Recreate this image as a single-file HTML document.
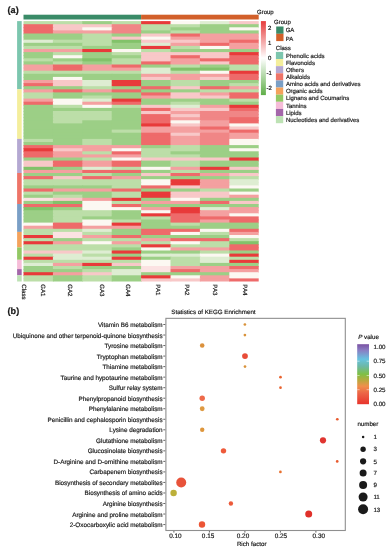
<!DOCTYPE html><html><head><meta charset="utf-8"><style>
html,body{margin:0;padding:0;background:#fff;width:390px;height:550px;overflow:hidden}
svg{display:block}
text{font-family:"Liberation Sans", Arial, sans-serif;fill:#1a1a1a;stroke:#1a1a1a;stroke-width:0.18px;text-rendering:geometricPrecision}
</style></head><body>
<svg width="390" height="550" viewBox="0 0 390 550">
<rect width="390" height="550" fill="#fff"/>
<text x="7.6" y="12.9" style="font-weight:bold;font-size:9.1px">(a)</text>
<rect x="23.50" y="14.7" width="117.60" height="4.8" fill="#3a8b68"/>
<rect x="141.10" y="14.7" width="117.60" height="4.8" fill="#d2602a"/>
<text x="257" y="14" style="font-size:6px">Group</text>
<g>
<rect x="23.50" y="21.10" width="30.20" height="3.90" fill="#bcdea8"/>
<rect x="52.90" y="21.10" width="30.20" height="3.90" fill="#bcdea8"/>
<rect x="82.30" y="21.10" width="30.20" height="3.90" fill="#9ccf86"/>
<rect x="111.70" y="21.10" width="30.20" height="3.90" fill="#bcdea8"/>
<rect x="141.10" y="21.10" width="30.20" height="3.90" fill="#e83a3a"/>
<rect x="170.50" y="21.10" width="30.20" height="3.90" fill="#fcf8f2"/>
<rect x="199.90" y="21.10" width="30.20" height="3.90" fill="#deedd2"/>
<rect x="229.30" y="21.10" width="29.40" height="3.90" fill="#f8c8c8"/>
<rect x="23.50" y="24.20" width="30.20" height="3.90" fill="#ee6a6a"/>
<rect x="52.90" y="24.20" width="30.20" height="3.90" fill="#f8c8c8"/>
<rect x="82.30" y="24.20" width="30.20" height="3.90" fill="#f8c8c8"/>
<rect x="111.70" y="24.20" width="30.20" height="3.90" fill="#f08686"/>
<rect x="141.10" y="24.20" width="30.20" height="3.90" fill="#bcdea8"/>
<rect x="170.50" y="24.20" width="30.20" height="3.90" fill="#bcdea8"/>
<rect x="199.90" y="24.20" width="30.20" height="3.90" fill="#9ccf86"/>
<rect x="229.30" y="24.20" width="29.40" height="3.90" fill="#9ccf86"/>
<rect x="23.50" y="27.30" width="30.20" height="3.90" fill="#ee6a6a"/>
<rect x="52.90" y="27.30" width="30.20" height="3.90" fill="#f8c8c8"/>
<rect x="82.30" y="27.30" width="30.20" height="3.90" fill="#fcf8f2"/>
<rect x="111.70" y="27.30" width="30.20" height="3.90" fill="#f08686"/>
<rect x="141.10" y="27.30" width="30.20" height="3.90" fill="#bcdea8"/>
<rect x="170.50" y="27.30" width="30.20" height="3.90" fill="#9ccf86"/>
<rect x="199.90" y="27.30" width="30.20" height="3.90" fill="#9ccf86"/>
<rect x="229.30" y="27.30" width="29.40" height="3.90" fill="#fcf8f2"/>
<rect x="23.50" y="30.40" width="30.20" height="3.90" fill="#ee6a6a"/>
<rect x="52.90" y="30.40" width="30.20" height="3.90" fill="#f4a0a0"/>
<rect x="82.30" y="30.40" width="30.20" height="3.90" fill="#f4a0a0"/>
<rect x="111.70" y="30.40" width="30.20" height="3.90" fill="#f08686"/>
<rect x="141.10" y="30.40" width="30.20" height="3.90" fill="#9ccf86"/>
<rect x="170.50" y="30.40" width="30.20" height="3.90" fill="#bcdea8"/>
<rect x="199.90" y="30.40" width="30.20" height="3.90" fill="#9ccf86"/>
<rect x="229.30" y="30.40" width="29.40" height="3.90" fill="#9ccf86"/>
<rect x="23.50" y="33.50" width="30.20" height="3.90" fill="#9ccf86"/>
<rect x="52.90" y="33.50" width="30.20" height="3.90" fill="#9ccf86"/>
<rect x="82.30" y="33.50" width="30.20" height="3.90" fill="#bcdea8"/>
<rect x="111.70" y="33.50" width="30.20" height="3.90" fill="#9ccf86"/>
<rect x="141.10" y="33.50" width="30.20" height="3.90" fill="#f8c8c8"/>
<rect x="170.50" y="33.50" width="30.20" height="3.90" fill="#ee6a6a"/>
<rect x="199.90" y="33.50" width="30.20" height="3.90" fill="#f4a0a0"/>
<rect x="229.30" y="33.50" width="29.40" height="3.90" fill="#f4a0a0"/>
<rect x="23.50" y="36.60" width="30.20" height="3.90" fill="#9ccf86"/>
<rect x="52.90" y="36.60" width="30.20" height="3.90" fill="#9ccf86"/>
<rect x="82.30" y="36.60" width="30.20" height="3.90" fill="#bcdea8"/>
<rect x="111.70" y="36.60" width="30.20" height="3.90" fill="#f8c8c8"/>
<rect x="141.10" y="36.60" width="30.20" height="3.90" fill="#fcf8f2"/>
<rect x="170.50" y="36.60" width="30.20" height="3.90" fill="#f4a0a0"/>
<rect x="199.90" y="36.60" width="30.20" height="3.90" fill="#f4a0a0"/>
<rect x="229.30" y="36.60" width="29.40" height="3.90" fill="#f4a0a0"/>
<rect x="23.50" y="39.70" width="30.20" height="3.90" fill="#deedd2"/>
<rect x="52.90" y="39.70" width="30.20" height="3.90" fill="#bcdea8"/>
<rect x="82.30" y="39.70" width="30.20" height="3.90" fill="#bcdea8"/>
<rect x="111.70" y="39.70" width="30.20" height="3.90" fill="#82c26a"/>
<rect x="141.10" y="39.70" width="30.20" height="3.90" fill="#f8c8c8"/>
<rect x="170.50" y="39.70" width="30.20" height="3.90" fill="#f8c8c8"/>
<rect x="199.90" y="39.70" width="30.20" height="3.90" fill="#f4a0a0"/>
<rect x="229.30" y="39.70" width="29.40" height="3.90" fill="#ee6a6a"/>
<rect x="23.50" y="42.80" width="30.20" height="3.90" fill="#9ccf86"/>
<rect x="52.90" y="42.80" width="30.20" height="3.90" fill="#9ccf86"/>
<rect x="82.30" y="42.80" width="30.20" height="3.90" fill="#bcdea8"/>
<rect x="111.70" y="42.80" width="30.20" height="3.90" fill="#9ccf86"/>
<rect x="141.10" y="42.80" width="30.20" height="3.90" fill="#deedd2"/>
<rect x="170.50" y="42.80" width="30.20" height="3.90" fill="#f4a0a0"/>
<rect x="199.90" y="42.80" width="30.20" height="3.90" fill="#ee6a6a"/>
<rect x="229.30" y="42.80" width="29.40" height="3.90" fill="#f4a0a0"/>
<rect x="23.50" y="45.90" width="30.20" height="3.90" fill="#bcdea8"/>
<rect x="52.90" y="45.90" width="30.20" height="3.90" fill="#bcdea8"/>
<rect x="82.30" y="45.90" width="30.20" height="3.90" fill="#9ccf86"/>
<rect x="111.70" y="45.90" width="30.20" height="3.90" fill="#9ccf86"/>
<rect x="141.10" y="45.90" width="30.20" height="3.90" fill="#e83a3a"/>
<rect x="170.50" y="45.90" width="30.20" height="3.90" fill="#bcdea8"/>
<rect x="199.90" y="45.90" width="30.20" height="3.90" fill="#fcf8f2"/>
<rect x="229.30" y="45.90" width="29.40" height="3.90" fill="#f4a0a0"/>
<rect x="23.50" y="49.00" width="30.20" height="3.90" fill="#f4a0a0"/>
<rect x="52.90" y="49.00" width="30.20" height="3.90" fill="#f4a0a0"/>
<rect x="82.30" y="49.00" width="30.20" height="3.90" fill="#e83a3a"/>
<rect x="111.70" y="49.00" width="30.20" height="3.90" fill="#fcf8f2"/>
<rect x="141.10" y="49.00" width="30.20" height="3.90" fill="#bcdea8"/>
<rect x="170.50" y="49.00" width="30.20" height="3.90" fill="#9ccf86"/>
<rect x="199.90" y="49.00" width="30.20" height="3.90" fill="#9ccf86"/>
<rect x="229.30" y="49.00" width="29.40" height="3.90" fill="#9ccf86"/>
<rect x="23.50" y="52.10" width="30.20" height="3.90" fill="#9ccf86"/>
<rect x="52.90" y="52.10" width="30.20" height="3.90" fill="#bcdea8"/>
<rect x="82.30" y="52.10" width="30.20" height="3.90" fill="#9ccf86"/>
<rect x="111.70" y="52.10" width="30.20" height="3.90" fill="#bcdea8"/>
<rect x="141.10" y="52.10" width="30.20" height="3.90" fill="#f8c8c8"/>
<rect x="170.50" y="52.10" width="30.20" height="3.90" fill="#f8c8c8"/>
<rect x="199.90" y="52.10" width="30.20" height="3.90" fill="#f8c8c8"/>
<rect x="229.30" y="52.10" width="29.40" height="3.90" fill="#e83a3a"/>
<rect x="23.50" y="55.20" width="30.20" height="3.90" fill="#9ccf86"/>
<rect x="52.90" y="55.20" width="30.20" height="3.90" fill="#fcf8f2"/>
<rect x="82.30" y="55.20" width="30.20" height="3.90" fill="#9ccf86"/>
<rect x="111.70" y="55.20" width="30.20" height="3.90" fill="#9ccf86"/>
<rect x="141.10" y="55.20" width="30.20" height="3.90" fill="#f8c8c8"/>
<rect x="170.50" y="55.20" width="30.20" height="3.90" fill="#ee6a6a"/>
<rect x="199.90" y="55.20" width="30.20" height="3.90" fill="#f8c8c8"/>
<rect x="229.30" y="55.20" width="29.40" height="3.90" fill="#ee6a6a"/>
<rect x="23.50" y="58.30" width="30.20" height="3.90" fill="#bcdea8"/>
<rect x="52.90" y="58.30" width="30.20" height="3.90" fill="#9ccf86"/>
<rect x="82.30" y="58.30" width="30.20" height="3.90" fill="#82c26a"/>
<rect x="111.70" y="58.30" width="30.20" height="3.90" fill="#bcdea8"/>
<rect x="141.10" y="58.30" width="30.20" height="3.90" fill="#f8c8c8"/>
<rect x="170.50" y="58.30" width="30.20" height="3.90" fill="#f4a0a0"/>
<rect x="199.90" y="58.30" width="30.20" height="3.90" fill="#ee6a6a"/>
<rect x="229.30" y="58.30" width="29.40" height="3.90" fill="#ee6a6a"/>
<rect x="23.50" y="61.40" width="30.20" height="3.90" fill="#9ccf86"/>
<rect x="52.90" y="61.40" width="30.20" height="3.90" fill="#bcdea8"/>
<rect x="82.30" y="61.40" width="30.20" height="3.90" fill="#9ccf86"/>
<rect x="111.70" y="61.40" width="30.20" height="3.90" fill="#bcdea8"/>
<rect x="141.10" y="61.40" width="30.20" height="3.90" fill="#ee6a6a"/>
<rect x="170.50" y="61.40" width="30.20" height="3.90" fill="#f4a0a0"/>
<rect x="199.90" y="61.40" width="30.20" height="3.90" fill="#f8c8c8"/>
<rect x="229.30" y="61.40" width="29.40" height="3.90" fill="#ee6a6a"/>
<rect x="23.50" y="64.50" width="30.20" height="3.90" fill="#f4a0a0"/>
<rect x="52.90" y="64.50" width="30.20" height="3.90" fill="#ee6a6a"/>
<rect x="82.30" y="64.50" width="30.20" height="3.90" fill="#f4a0a0"/>
<rect x="111.70" y="64.50" width="30.20" height="3.90" fill="#ee6a6a"/>
<rect x="141.10" y="64.50" width="30.20" height="3.90" fill="#9ccf86"/>
<rect x="170.50" y="64.50" width="30.20" height="3.90" fill="#bcdea8"/>
<rect x="199.90" y="64.50" width="30.20" height="3.90" fill="#9ccf86"/>
<rect x="229.30" y="64.50" width="29.40" height="3.90" fill="#bcdea8"/>
<rect x="23.50" y="67.60" width="30.20" height="3.90" fill="#f4a0a0"/>
<rect x="52.90" y="67.60" width="30.20" height="3.90" fill="#ee6a6a"/>
<rect x="82.30" y="67.60" width="30.20" height="3.90" fill="#f4a0a0"/>
<rect x="111.70" y="67.60" width="30.20" height="3.90" fill="#f4a0a0"/>
<rect x="141.10" y="67.60" width="30.20" height="3.90" fill="#deedd2"/>
<rect x="170.50" y="67.60" width="30.20" height="3.90" fill="#82c26a"/>
<rect x="199.90" y="67.60" width="30.20" height="3.90" fill="#82c26a"/>
<rect x="229.30" y="67.60" width="29.40" height="3.90" fill="#bcdea8"/>
<rect x="23.50" y="70.70" width="30.20" height="3.90" fill="#bcdea8"/>
<rect x="52.90" y="70.70" width="30.20" height="3.90" fill="#bcdea8"/>
<rect x="82.30" y="70.70" width="30.20" height="3.90" fill="#bcdea8"/>
<rect x="111.70" y="70.70" width="30.20" height="3.90" fill="#bcdea8"/>
<rect x="141.10" y="70.70" width="30.20" height="3.90" fill="#deedd2"/>
<rect x="170.50" y="70.70" width="30.20" height="3.90" fill="#bcdea8"/>
<rect x="199.90" y="70.70" width="30.20" height="3.90" fill="#fcf8f2"/>
<rect x="229.30" y="70.70" width="29.40" height="3.90" fill="#e83a3a"/>
<rect x="23.50" y="73.80" width="30.20" height="3.90" fill="#9ccf86"/>
<rect x="52.90" y="73.80" width="30.20" height="3.90" fill="#9ccf86"/>
<rect x="82.30" y="73.80" width="30.20" height="3.90" fill="#9ccf86"/>
<rect x="111.70" y="73.80" width="30.20" height="3.90" fill="#9ccf86"/>
<rect x="141.10" y="73.80" width="30.20" height="3.90" fill="#f4a0a0"/>
<rect x="170.50" y="73.80" width="30.20" height="3.90" fill="#f4a0a0"/>
<rect x="199.90" y="73.80" width="30.20" height="3.90" fill="#f4a0a0"/>
<rect x="229.30" y="73.80" width="29.40" height="3.90" fill="#ee6a6a"/>
<rect x="23.50" y="76.90" width="30.20" height="3.90" fill="#9ccf86"/>
<rect x="52.90" y="76.90" width="30.20" height="3.90" fill="#fcf8f2"/>
<rect x="82.30" y="76.90" width="30.20" height="3.90" fill="#9ccf86"/>
<rect x="111.70" y="76.90" width="30.20" height="3.90" fill="#9ccf86"/>
<rect x="141.10" y="76.90" width="30.20" height="3.90" fill="#f8c8c8"/>
<rect x="170.50" y="76.90" width="30.20" height="3.90" fill="#f4a0a0"/>
<rect x="199.90" y="76.90" width="30.20" height="3.90" fill="#f8c8c8"/>
<rect x="229.30" y="76.90" width="29.40" height="3.90" fill="#ee6a6a"/>
<rect x="23.50" y="80.00" width="30.20" height="3.90" fill="#f4a0a0"/>
<rect x="52.90" y="80.00" width="30.20" height="3.90" fill="#f8c8c8"/>
<rect x="82.30" y="80.00" width="30.20" height="3.90" fill="#deedd2"/>
<rect x="111.70" y="80.00" width="30.20" height="3.90" fill="#e83a3a"/>
<rect x="141.10" y="80.00" width="30.20" height="3.90" fill="#9ccf86"/>
<rect x="170.50" y="80.00" width="30.20" height="3.90" fill="#bcdea8"/>
<rect x="199.90" y="80.00" width="30.20" height="3.90" fill="#9ccf86"/>
<rect x="229.30" y="80.00" width="29.40" height="3.90" fill="#9ccf86"/>
<rect x="23.50" y="83.10" width="30.20" height="3.90" fill="#ee6a6a"/>
<rect x="52.90" y="83.10" width="30.20" height="3.90" fill="#f8c8c8"/>
<rect x="82.30" y="83.10" width="30.20" height="3.90" fill="#deedd2"/>
<rect x="111.70" y="83.10" width="30.20" height="3.90" fill="#e83a3a"/>
<rect x="141.10" y="83.10" width="30.20" height="3.90" fill="#9ccf86"/>
<rect x="170.50" y="83.10" width="30.20" height="3.90" fill="#bcdea8"/>
<rect x="199.90" y="83.10" width="30.20" height="3.90" fill="#9ccf86"/>
<rect x="229.30" y="83.10" width="29.40" height="3.90" fill="#bcdea8"/>
<rect x="23.50" y="86.20" width="30.20" height="3.90" fill="#9ccf86"/>
<rect x="52.90" y="86.20" width="30.20" height="3.90" fill="#9ccf86"/>
<rect x="82.30" y="86.20" width="30.20" height="3.90" fill="#bcdea8"/>
<rect x="111.70" y="86.20" width="30.20" height="3.90" fill="#9ccf86"/>
<rect x="141.10" y="86.20" width="30.20" height="3.90" fill="#ee6a6a"/>
<rect x="170.50" y="86.20" width="30.20" height="3.90" fill="#f8c8c8"/>
<rect x="199.90" y="86.20" width="30.20" height="3.90" fill="#ee6a6a"/>
<rect x="229.30" y="86.20" width="29.40" height="3.90" fill="#f4a0a0"/>
<rect x="23.50" y="89.30" width="30.20" height="3.90" fill="#f4a0a0"/>
<rect x="52.90" y="89.30" width="30.20" height="3.90" fill="#ee6a6a"/>
<rect x="82.30" y="89.30" width="30.20" height="3.90" fill="#f4a0a0"/>
<rect x="111.70" y="89.30" width="30.20" height="3.90" fill="#ee6a6a"/>
<rect x="141.10" y="89.30" width="30.20" height="3.90" fill="#9ccf86"/>
<rect x="170.50" y="89.30" width="30.20" height="3.90" fill="#9ccf86"/>
<rect x="199.90" y="89.30" width="30.20" height="3.90" fill="#bcdea8"/>
<rect x="229.30" y="89.30" width="29.40" height="3.90" fill="#bcdea8"/>
<rect x="23.50" y="92.40" width="30.20" height="3.90" fill="#bcdea8"/>
<rect x="52.90" y="92.40" width="30.20" height="3.90" fill="#9ccf86"/>
<rect x="82.30" y="92.40" width="30.20" height="3.90" fill="#9ccf86"/>
<rect x="111.70" y="92.40" width="30.20" height="3.90" fill="#9ccf86"/>
<rect x="141.10" y="92.40" width="30.20" height="3.90" fill="#ee6a6a"/>
<rect x="170.50" y="92.40" width="30.20" height="3.90" fill="#f8c8c8"/>
<rect x="199.90" y="92.40" width="30.20" height="3.90" fill="#f4a0a0"/>
<rect x="229.30" y="92.40" width="29.40" height="3.90" fill="#ee6a6a"/>
<rect x="23.50" y="95.50" width="30.20" height="3.90" fill="#bcdea8"/>
<rect x="52.90" y="95.50" width="30.20" height="3.90" fill="#9ccf86"/>
<rect x="82.30" y="95.50" width="30.20" height="3.90" fill="#bcdea8"/>
<rect x="111.70" y="95.50" width="30.20" height="3.90" fill="#9ccf86"/>
<rect x="141.10" y="95.50" width="30.20" height="3.90" fill="#f4a0a0"/>
<rect x="170.50" y="95.50" width="30.20" height="3.90" fill="#f8c8c8"/>
<rect x="199.90" y="95.50" width="30.20" height="3.90" fill="#f8c8c8"/>
<rect x="229.30" y="95.50" width="29.40" height="3.90" fill="#ee6a6a"/>
<rect x="23.50" y="98.60" width="30.20" height="3.90" fill="#f4a0a0"/>
<rect x="52.90" y="98.60" width="30.20" height="3.90" fill="#fcf8f2"/>
<rect x="82.30" y="98.60" width="30.20" height="3.90" fill="#deedd2"/>
<rect x="111.70" y="98.60" width="30.20" height="3.90" fill="#e83a3a"/>
<rect x="141.10" y="98.60" width="30.20" height="3.90" fill="#9ccf86"/>
<rect x="170.50" y="98.60" width="30.20" height="3.90" fill="#9ccf86"/>
<rect x="199.90" y="98.60" width="30.20" height="3.90" fill="#9ccf86"/>
<rect x="229.30" y="98.60" width="29.40" height="3.90" fill="#bcdea8"/>
<rect x="23.50" y="101.70" width="30.20" height="3.90" fill="#ee6a6a"/>
<rect x="52.90" y="101.70" width="30.20" height="3.90" fill="#fcf8f2"/>
<rect x="82.30" y="101.70" width="30.20" height="3.90" fill="#f4a0a0"/>
<rect x="111.70" y="101.70" width="30.20" height="3.90" fill="#ee6a6a"/>
<rect x="141.10" y="101.70" width="30.20" height="3.90" fill="#9ccf86"/>
<rect x="170.50" y="101.70" width="30.20" height="3.90" fill="#bcdea8"/>
<rect x="199.90" y="101.70" width="30.20" height="3.90" fill="#9ccf86"/>
<rect x="229.30" y="101.70" width="29.40" height="3.90" fill="#9ccf86"/>
<rect x="23.50" y="104.80" width="30.20" height="3.90" fill="#9ccf86"/>
<rect x="52.90" y="104.80" width="30.20" height="3.90" fill="#bcdea8"/>
<rect x="82.30" y="104.80" width="30.20" height="3.90" fill="#fcf8f2"/>
<rect x="111.70" y="104.80" width="30.20" height="3.90" fill="#bcdea8"/>
<rect x="141.10" y="104.80" width="30.20" height="3.90" fill="#f8c8c8"/>
<rect x="170.50" y="104.80" width="30.20" height="3.90" fill="#deedd2"/>
<rect x="199.90" y="104.80" width="30.20" height="3.90" fill="#f4a0a0"/>
<rect x="229.30" y="104.80" width="29.40" height="3.90" fill="#e83a3a"/>
<rect x="23.50" y="107.90" width="30.20" height="3.90" fill="#9ccf86"/>
<rect x="52.90" y="107.90" width="30.20" height="3.90" fill="#9ccf86"/>
<rect x="82.30" y="107.90" width="30.20" height="3.90" fill="#9ccf86"/>
<rect x="111.70" y="107.90" width="30.20" height="3.90" fill="#9ccf86"/>
<rect x="141.10" y="107.90" width="30.20" height="3.90" fill="#ee6a6a"/>
<rect x="170.50" y="107.90" width="30.20" height="3.90" fill="#f8c8c8"/>
<rect x="199.90" y="107.90" width="30.20" height="3.90" fill="#f8c8c8"/>
<rect x="229.30" y="107.90" width="29.40" height="3.90" fill="#ee6a6a"/>
<rect x="23.50" y="111.00" width="30.20" height="3.90" fill="#9ccf86"/>
<rect x="52.90" y="111.00" width="30.20" height="3.90" fill="#bcdea8"/>
<rect x="82.30" y="111.00" width="30.20" height="3.90" fill="#bcdea8"/>
<rect x="111.70" y="111.00" width="30.20" height="3.90" fill="#9ccf86"/>
<rect x="141.10" y="111.00" width="30.20" height="3.90" fill="#f8c8c8"/>
<rect x="170.50" y="111.00" width="30.20" height="3.90" fill="#f4a0a0"/>
<rect x="199.90" y="111.00" width="30.20" height="3.90" fill="#f08686"/>
<rect x="229.30" y="111.00" width="29.40" height="3.90" fill="#f08686"/>
<rect x="23.50" y="114.10" width="30.20" height="3.90" fill="#9ccf86"/>
<rect x="52.90" y="114.10" width="30.20" height="3.90" fill="#bcdea8"/>
<rect x="82.30" y="114.10" width="30.20" height="3.90" fill="#bcdea8"/>
<rect x="111.70" y="114.10" width="30.20" height="3.90" fill="#9ccf86"/>
<rect x="141.10" y="114.10" width="30.20" height="3.90" fill="#ee6a6a"/>
<rect x="170.50" y="114.10" width="30.20" height="3.90" fill="#f8c8c8"/>
<rect x="199.90" y="114.10" width="30.20" height="3.90" fill="#f08686"/>
<rect x="229.30" y="114.10" width="29.40" height="3.90" fill="#f08686"/>
<rect x="23.50" y="117.20" width="30.20" height="3.90" fill="#9ccf86"/>
<rect x="52.90" y="117.20" width="30.20" height="3.90" fill="#bcdea8"/>
<rect x="82.30" y="117.20" width="30.20" height="3.90" fill="#bcdea8"/>
<rect x="111.70" y="117.20" width="30.20" height="3.90" fill="#9ccf86"/>
<rect x="141.10" y="117.20" width="30.20" height="3.90" fill="#ee6a6a"/>
<rect x="170.50" y="117.20" width="30.20" height="3.90" fill="#f4a0a0"/>
<rect x="199.90" y="117.20" width="30.20" height="3.90" fill="#f08686"/>
<rect x="229.30" y="117.20" width="29.40" height="3.90" fill="#ee6a6a"/>
<rect x="23.50" y="120.30" width="30.20" height="3.90" fill="#9ccf86"/>
<rect x="52.90" y="120.30" width="30.20" height="3.90" fill="#bcdea8"/>
<rect x="82.30" y="120.30" width="30.20" height="3.90" fill="#9ccf86"/>
<rect x="111.70" y="120.30" width="30.20" height="3.90" fill="#9ccf86"/>
<rect x="141.10" y="120.30" width="30.20" height="3.90" fill="#ee6a6a"/>
<rect x="170.50" y="120.30" width="30.20" height="3.90" fill="#fcf8f2"/>
<rect x="199.90" y="120.30" width="30.20" height="3.90" fill="#f4a0a0"/>
<rect x="229.30" y="120.30" width="29.40" height="3.90" fill="#ee6a6a"/>
<rect x="23.50" y="123.40" width="30.20" height="3.90" fill="#9ccf86"/>
<rect x="52.90" y="123.40" width="30.20" height="3.90" fill="#9ccf86"/>
<rect x="82.30" y="123.40" width="30.20" height="3.90" fill="#9ccf86"/>
<rect x="111.70" y="123.40" width="30.20" height="3.90" fill="#9ccf86"/>
<rect x="141.10" y="123.40" width="30.20" height="3.90" fill="#e83a3a"/>
<rect x="170.50" y="123.40" width="30.20" height="3.90" fill="#f8c8c8"/>
<rect x="199.90" y="123.40" width="30.20" height="3.90" fill="#f4a0a0"/>
<rect x="229.30" y="123.40" width="29.40" height="3.90" fill="#fcf8f2"/>
<rect x="23.50" y="126.50" width="30.20" height="3.90" fill="#9ccf86"/>
<rect x="52.90" y="126.50" width="30.20" height="3.90" fill="#9ccf86"/>
<rect x="82.30" y="126.50" width="30.20" height="3.90" fill="#9ccf86"/>
<rect x="111.70" y="126.50" width="30.20" height="3.90" fill="#9ccf86"/>
<rect x="141.10" y="126.50" width="30.20" height="3.90" fill="#f4a0a0"/>
<rect x="170.50" y="126.50" width="30.20" height="3.90" fill="#f4a0a0"/>
<rect x="199.90" y="126.50" width="30.20" height="3.90" fill="#ee6a6a"/>
<rect x="229.30" y="126.50" width="29.40" height="3.90" fill="#f8c8c8"/>
<rect x="23.50" y="129.60" width="30.20" height="3.90" fill="#9ccf86"/>
<rect x="52.90" y="129.60" width="30.20" height="3.90" fill="#9ccf86"/>
<rect x="82.30" y="129.60" width="30.20" height="3.90" fill="#9ccf86"/>
<rect x="111.70" y="129.60" width="30.20" height="3.90" fill="#bcdea8"/>
<rect x="141.10" y="129.60" width="30.20" height="3.90" fill="#f4a0a0"/>
<rect x="170.50" y="129.60" width="30.20" height="3.90" fill="#f4a0a0"/>
<rect x="199.90" y="129.60" width="30.20" height="3.90" fill="#f4a0a0"/>
<rect x="229.30" y="129.60" width="29.40" height="3.90" fill="#ee6a6a"/>
<rect x="23.50" y="132.70" width="30.20" height="3.90" fill="#9ccf86"/>
<rect x="52.90" y="132.70" width="30.20" height="3.90" fill="#9ccf86"/>
<rect x="82.30" y="132.70" width="30.20" height="3.90" fill="#9ccf86"/>
<rect x="111.70" y="132.70" width="30.20" height="3.90" fill="#9ccf86"/>
<rect x="141.10" y="132.70" width="30.20" height="3.90" fill="#ee6a6a"/>
<rect x="170.50" y="132.70" width="30.20" height="3.90" fill="#f8c8c8"/>
<rect x="199.90" y="132.70" width="30.20" height="3.90" fill="#f08686"/>
<rect x="229.30" y="132.70" width="29.40" height="3.90" fill="#f4a0a0"/>
<rect x="23.50" y="135.80" width="30.20" height="3.90" fill="#9ccf86"/>
<rect x="52.90" y="135.80" width="30.20" height="3.90" fill="#9ccf86"/>
<rect x="82.30" y="135.80" width="30.20" height="3.90" fill="#9ccf86"/>
<rect x="111.70" y="135.80" width="30.20" height="3.90" fill="#9ccf86"/>
<rect x="141.10" y="135.80" width="30.20" height="3.90" fill="#ee6a6a"/>
<rect x="170.50" y="135.80" width="30.20" height="3.90" fill="#f4a0a0"/>
<rect x="199.90" y="135.80" width="30.20" height="3.90" fill="#f08686"/>
<rect x="229.30" y="135.80" width="29.40" height="3.90" fill="#f4a0a0"/>
<rect x="23.50" y="138.90" width="30.20" height="3.90" fill="#bcdea8"/>
<rect x="52.90" y="138.90" width="30.20" height="3.90" fill="#9ccf86"/>
<rect x="82.30" y="138.90" width="30.20" height="3.90" fill="#bcdea8"/>
<rect x="111.70" y="138.90" width="30.20" height="3.90" fill="#9ccf86"/>
<rect x="141.10" y="138.90" width="30.20" height="3.90" fill="#ee6a6a"/>
<rect x="170.50" y="138.90" width="30.20" height="3.90" fill="#f4a0a0"/>
<rect x="199.90" y="138.90" width="30.20" height="3.90" fill="#f08686"/>
<rect x="229.30" y="138.90" width="29.40" height="3.90" fill="#fcf8f2"/>
<rect x="23.50" y="142.00" width="30.20" height="3.90" fill="#9ccf86"/>
<rect x="52.90" y="142.00" width="30.20" height="3.90" fill="#9ccf86"/>
<rect x="82.30" y="142.00" width="30.20" height="3.90" fill="#bcdea8"/>
<rect x="111.70" y="142.00" width="30.20" height="3.90" fill="#9ccf86"/>
<rect x="141.10" y="142.00" width="30.20" height="3.90" fill="#ee6a6a"/>
<rect x="170.50" y="142.00" width="30.20" height="3.90" fill="#f4a0a0"/>
<rect x="199.90" y="142.00" width="30.20" height="3.90" fill="#f08686"/>
<rect x="229.30" y="142.00" width="29.40" height="3.90" fill="#fcf8f2"/>
<rect x="23.50" y="145.10" width="30.20" height="3.90" fill="#ee6a6a"/>
<rect x="52.90" y="145.10" width="30.20" height="3.90" fill="#f4a0a0"/>
<rect x="82.30" y="145.10" width="30.20" height="3.90" fill="#f4a0a0"/>
<rect x="111.70" y="145.10" width="30.20" height="3.90" fill="#f4a0a0"/>
<rect x="141.10" y="145.10" width="30.20" height="3.90" fill="#9ccf86"/>
<rect x="170.50" y="145.10" width="30.20" height="3.90" fill="#bcdea8"/>
<rect x="199.90" y="145.10" width="30.20" height="3.90" fill="#9ccf86"/>
<rect x="229.30" y="145.10" width="29.40" height="3.90" fill="#9ccf86"/>
<rect x="23.50" y="148.20" width="30.20" height="3.90" fill="#e83a3a"/>
<rect x="52.90" y="148.20" width="30.20" height="3.90" fill="#f8c8c8"/>
<rect x="82.30" y="148.20" width="30.20" height="3.90" fill="#f4a0a0"/>
<rect x="111.70" y="148.20" width="30.20" height="3.90" fill="#fcf8f2"/>
<rect x="141.10" y="148.20" width="30.20" height="3.90" fill="#bcdea8"/>
<rect x="170.50" y="148.20" width="30.20" height="3.90" fill="#bcdea8"/>
<rect x="199.90" y="148.20" width="30.20" height="3.90" fill="#9ccf86"/>
<rect x="229.30" y="148.20" width="29.40" height="3.90" fill="#fcf8f2"/>
<rect x="23.50" y="151.30" width="30.20" height="3.90" fill="#ee6a6a"/>
<rect x="52.90" y="151.30" width="30.20" height="3.90" fill="#f4a0a0"/>
<rect x="82.30" y="151.30" width="30.20" height="3.90" fill="#bcdea8"/>
<rect x="111.70" y="151.30" width="30.20" height="3.90" fill="#ee6a6a"/>
<rect x="141.10" y="151.30" width="30.20" height="3.90" fill="#bcdea8"/>
<rect x="170.50" y="151.30" width="30.20" height="3.90" fill="#9ccf86"/>
<rect x="199.90" y="151.30" width="30.20" height="3.90" fill="#9ccf86"/>
<rect x="229.30" y="151.30" width="29.40" height="3.90" fill="#9ccf86"/>
<rect x="23.50" y="154.40" width="30.20" height="3.90" fill="#ee6a6a"/>
<rect x="52.90" y="154.40" width="30.20" height="3.90" fill="#f4a0a0"/>
<rect x="82.30" y="154.40" width="30.20" height="3.90" fill="#f4a0a0"/>
<rect x="111.70" y="154.40" width="30.20" height="3.90" fill="#f4a0a0"/>
<rect x="141.10" y="154.40" width="30.20" height="3.90" fill="#bcdea8"/>
<rect x="170.50" y="154.40" width="30.20" height="3.90" fill="#bcdea8"/>
<rect x="199.90" y="154.40" width="30.20" height="3.90" fill="#9ccf86"/>
<rect x="229.30" y="154.40" width="29.40" height="3.90" fill="#9ccf86"/>
<rect x="23.50" y="157.50" width="30.20" height="3.90" fill="#9ccf86"/>
<rect x="52.90" y="157.50" width="30.20" height="3.90" fill="#9ccf86"/>
<rect x="82.30" y="157.50" width="30.20" height="3.90" fill="#bcdea8"/>
<rect x="111.70" y="157.50" width="30.20" height="3.90" fill="#fcf8f2"/>
<rect x="141.10" y="157.50" width="30.20" height="3.90" fill="#f8c8c8"/>
<rect x="170.50" y="157.50" width="30.20" height="3.90" fill="#f8c8c8"/>
<rect x="199.90" y="157.50" width="30.20" height="3.90" fill="#f8c8c8"/>
<rect x="229.30" y="157.50" width="29.40" height="3.90" fill="#e83a3a"/>
<rect x="23.50" y="160.60" width="30.20" height="3.90" fill="#f8c8c8"/>
<rect x="52.90" y="160.60" width="30.20" height="3.90" fill="#ee6a6a"/>
<rect x="82.30" y="160.60" width="30.20" height="3.90" fill="#f4a0a0"/>
<rect x="111.70" y="160.60" width="30.20" height="3.90" fill="#ee6a6a"/>
<rect x="141.10" y="160.60" width="30.20" height="3.90" fill="#9ccf86"/>
<rect x="170.50" y="160.60" width="30.20" height="3.90" fill="#bcdea8"/>
<rect x="199.90" y="160.60" width="30.20" height="3.90" fill="#9ccf86"/>
<rect x="229.30" y="160.60" width="29.40" height="3.90" fill="#9ccf86"/>
<rect x="23.50" y="163.70" width="30.20" height="3.90" fill="#f8c8c8"/>
<rect x="52.90" y="163.70" width="30.20" height="3.90" fill="#ee6a6a"/>
<rect x="82.30" y="163.70" width="30.20" height="3.90" fill="#f4a0a0"/>
<rect x="111.70" y="163.70" width="30.20" height="3.90" fill="#ee6a6a"/>
<rect x="141.10" y="163.70" width="30.20" height="3.90" fill="#9ccf86"/>
<rect x="170.50" y="163.70" width="30.20" height="3.90" fill="#bcdea8"/>
<rect x="199.90" y="163.70" width="30.20" height="3.90" fill="#9ccf86"/>
<rect x="229.30" y="163.70" width="29.40" height="3.90" fill="#9ccf86"/>
<rect x="23.50" y="166.80" width="30.20" height="3.90" fill="#82c26a"/>
<rect x="52.90" y="166.80" width="30.20" height="3.90" fill="#9ccf86"/>
<rect x="82.30" y="166.80" width="30.20" height="3.90" fill="#deedd2"/>
<rect x="111.70" y="166.80" width="30.20" height="3.90" fill="#bcdea8"/>
<rect x="141.10" y="166.80" width="30.20" height="3.90" fill="#fcf8f2"/>
<rect x="170.50" y="166.80" width="30.20" height="3.90" fill="#f4a0a0"/>
<rect x="199.90" y="166.80" width="30.20" height="3.90" fill="#e83a3a"/>
<rect x="229.30" y="166.80" width="29.40" height="3.90" fill="#f8c8c8"/>
<rect x="23.50" y="169.90" width="30.20" height="3.90" fill="#f4a0a0"/>
<rect x="52.90" y="169.90" width="30.20" height="3.90" fill="#f4a0a0"/>
<rect x="82.30" y="169.90" width="30.20" height="3.90" fill="#ee6a6a"/>
<rect x="111.70" y="169.90" width="30.20" height="3.90" fill="#ee6a6a"/>
<rect x="141.10" y="169.90" width="30.20" height="3.90" fill="#9ccf86"/>
<rect x="170.50" y="169.90" width="30.20" height="3.90" fill="#bcdea8"/>
<rect x="199.90" y="169.90" width="30.20" height="3.90" fill="#9ccf86"/>
<rect x="229.30" y="169.90" width="29.40" height="3.90" fill="#9ccf86"/>
<rect x="23.50" y="173.00" width="30.20" height="3.90" fill="#9ccf86"/>
<rect x="52.90" y="173.00" width="30.20" height="3.90" fill="#9ccf86"/>
<rect x="82.30" y="173.00" width="30.20" height="3.90" fill="#bcdea8"/>
<rect x="111.70" y="173.00" width="30.20" height="3.90" fill="#9ccf86"/>
<rect x="141.10" y="173.00" width="30.20" height="3.90" fill="#f8c8c8"/>
<rect x="170.50" y="173.00" width="30.20" height="3.90" fill="#ee6a6a"/>
<rect x="199.90" y="173.00" width="30.20" height="3.90" fill="#f4a0a0"/>
<rect x="229.30" y="173.00" width="29.40" height="3.90" fill="#f8c8c8"/>
<rect x="23.50" y="176.10" width="30.20" height="3.90" fill="#ee6a6a"/>
<rect x="52.90" y="176.10" width="30.20" height="3.90" fill="#f8c8c8"/>
<rect x="82.30" y="176.10" width="30.20" height="3.90" fill="#ee6a6a"/>
<rect x="111.70" y="176.10" width="30.20" height="3.90" fill="#f4a0a0"/>
<rect x="141.10" y="176.10" width="30.20" height="3.90" fill="#9ccf86"/>
<rect x="170.50" y="176.10" width="30.20" height="3.90" fill="#9ccf86"/>
<rect x="199.90" y="176.10" width="30.20" height="3.90" fill="#9ccf86"/>
<rect x="229.30" y="176.10" width="29.40" height="3.90" fill="#bcdea8"/>
<rect x="23.50" y="179.20" width="30.20" height="3.90" fill="#bcdea8"/>
<rect x="52.90" y="179.20" width="30.20" height="3.90" fill="#bcdea8"/>
<rect x="82.30" y="179.20" width="30.20" height="3.90" fill="#bcdea8"/>
<rect x="111.70" y="179.20" width="30.20" height="3.90" fill="#bcdea8"/>
<rect x="141.10" y="179.20" width="30.20" height="3.90" fill="#fcf8f2"/>
<rect x="170.50" y="179.20" width="30.20" height="3.90" fill="#e83a3a"/>
<rect x="199.90" y="179.20" width="30.20" height="3.90" fill="#f4a0a0"/>
<rect x="229.30" y="179.20" width="29.40" height="3.90" fill="#deedd2"/>
<rect x="23.50" y="182.30" width="30.20" height="3.90" fill="#bcdea8"/>
<rect x="52.90" y="182.30" width="30.20" height="3.90" fill="#bcdea8"/>
<rect x="82.30" y="182.30" width="30.20" height="3.90" fill="#bcdea8"/>
<rect x="111.70" y="182.30" width="30.20" height="3.90" fill="#bcdea8"/>
<rect x="141.10" y="182.30" width="30.20" height="3.90" fill="#fcf8f2"/>
<rect x="170.50" y="182.30" width="30.20" height="3.90" fill="#e83a3a"/>
<rect x="199.90" y="182.30" width="30.20" height="3.90" fill="#f4a0a0"/>
<rect x="229.30" y="182.30" width="29.40" height="3.90" fill="#deedd2"/>
<rect x="23.50" y="185.40" width="30.20" height="3.90" fill="#9ccf86"/>
<rect x="52.90" y="185.40" width="30.20" height="3.90" fill="#9ccf86"/>
<rect x="82.30" y="185.40" width="30.20" height="3.90" fill="#9ccf86"/>
<rect x="111.70" y="185.40" width="30.20" height="3.90" fill="#bcdea8"/>
<rect x="141.10" y="185.40" width="30.20" height="3.90" fill="#ee6a6a"/>
<rect x="170.50" y="185.40" width="30.20" height="3.90" fill="#f8c8c8"/>
<rect x="199.90" y="185.40" width="30.20" height="3.90" fill="#f4a0a0"/>
<rect x="229.30" y="185.40" width="29.40" height="3.90" fill="#fcf8f2"/>
<rect x="23.50" y="188.50" width="30.20" height="3.90" fill="#ee6a6a"/>
<rect x="52.90" y="188.50" width="30.20" height="3.90" fill="#f4a0a0"/>
<rect x="82.30" y="188.50" width="30.20" height="3.90" fill="#f4a0a0"/>
<rect x="111.70" y="188.50" width="30.20" height="3.90" fill="#ee6a6a"/>
<rect x="141.10" y="188.50" width="30.20" height="3.90" fill="#9ccf86"/>
<rect x="170.50" y="188.50" width="30.20" height="3.90" fill="#9ccf86"/>
<rect x="199.90" y="188.50" width="30.20" height="3.90" fill="#bcdea8"/>
<rect x="229.30" y="188.50" width="29.40" height="3.90" fill="#9ccf86"/>
<rect x="23.50" y="191.60" width="30.20" height="3.90" fill="#bcdea8"/>
<rect x="52.90" y="191.60" width="30.20" height="3.90" fill="#9ccf86"/>
<rect x="82.30" y="191.60" width="30.20" height="3.90" fill="#9ccf86"/>
<rect x="111.70" y="191.60" width="30.20" height="3.90" fill="#bcdea8"/>
<rect x="141.10" y="191.60" width="30.20" height="3.90" fill="#e83a3a"/>
<rect x="170.50" y="191.60" width="30.20" height="3.90" fill="#f8c8c8"/>
<rect x="199.90" y="191.60" width="30.20" height="3.90" fill="#f8c8c8"/>
<rect x="229.30" y="191.60" width="29.40" height="3.90" fill="#fcf8f2"/>
<rect x="23.50" y="194.70" width="30.20" height="3.90" fill="#9ccf86"/>
<rect x="52.90" y="194.70" width="30.20" height="3.90" fill="#bcdea8"/>
<rect x="82.30" y="194.70" width="30.20" height="3.90" fill="#9ccf86"/>
<rect x="111.70" y="194.70" width="30.20" height="3.90" fill="#bcdea8"/>
<rect x="141.10" y="194.70" width="30.20" height="3.90" fill="#e83a3a"/>
<rect x="170.50" y="194.70" width="30.20" height="3.90" fill="#f8c8c8"/>
<rect x="199.90" y="194.70" width="30.20" height="3.90" fill="#f8c8c8"/>
<rect x="229.30" y="194.70" width="29.40" height="3.90" fill="#f4a0a0"/>
<rect x="23.50" y="197.80" width="30.20" height="3.90" fill="#fbe2e2"/>
<rect x="52.90" y="197.80" width="30.20" height="3.90" fill="#f8c8c8"/>
<rect x="82.30" y="197.80" width="30.20" height="3.90" fill="#f4a0a0"/>
<rect x="111.70" y="197.80" width="30.20" height="3.90" fill="#e83a3a"/>
<rect x="141.10" y="197.80" width="30.20" height="3.90" fill="#9ccf86"/>
<rect x="170.50" y="197.80" width="30.20" height="3.90" fill="#fcf8f2"/>
<rect x="199.90" y="197.80" width="30.20" height="3.90" fill="#9ccf86"/>
<rect x="229.30" y="197.80" width="29.40" height="3.90" fill="#9ccf86"/>
<rect x="23.50" y="200.90" width="30.20" height="3.90" fill="#9ccf86"/>
<rect x="52.90" y="200.90" width="30.20" height="3.90" fill="#82c26a"/>
<rect x="82.30" y="200.90" width="30.20" height="3.90" fill="#fcf8f2"/>
<rect x="111.70" y="200.90" width="30.20" height="3.90" fill="#bcdea8"/>
<rect x="141.10" y="200.90" width="30.20" height="3.90" fill="#f4a0a0"/>
<rect x="170.50" y="200.90" width="30.20" height="3.90" fill="#f4a0a0"/>
<rect x="199.90" y="200.90" width="30.20" height="3.90" fill="#ee6a6a"/>
<rect x="229.30" y="200.90" width="29.40" height="3.90" fill="#f8c8c8"/>
<rect x="23.50" y="204.00" width="30.20" height="3.90" fill="#ee6a6a"/>
<rect x="52.90" y="204.00" width="30.20" height="3.90" fill="#ee6a6a"/>
<rect x="82.30" y="204.00" width="30.20" height="3.90" fill="#fcf8f2"/>
<rect x="111.70" y="204.00" width="30.20" height="3.90" fill="#ee6a6a"/>
<rect x="141.10" y="204.00" width="30.20" height="3.90" fill="#9ccf86"/>
<rect x="170.50" y="204.00" width="30.20" height="3.90" fill="#9ccf86"/>
<rect x="199.90" y="204.00" width="30.20" height="3.90" fill="#9ccf86"/>
<rect x="229.30" y="204.00" width="29.40" height="3.90" fill="#9ccf86"/>
<rect x="23.50" y="207.10" width="30.20" height="3.90" fill="#82c26a"/>
<rect x="52.90" y="207.10" width="30.20" height="3.90" fill="#9ccf86"/>
<rect x="82.30" y="207.10" width="30.20" height="3.90" fill="#fcf8f2"/>
<rect x="111.70" y="207.10" width="30.20" height="3.90" fill="#fcf8f2"/>
<rect x="141.10" y="207.10" width="30.20" height="3.90" fill="#f4a0a0"/>
<rect x="170.50" y="207.10" width="30.20" height="3.90" fill="#e83a3a"/>
<rect x="199.90" y="207.10" width="30.20" height="3.90" fill="#deedd2"/>
<rect x="229.30" y="207.10" width="29.40" height="3.90" fill="#f4a0a0"/>
<rect x="23.50" y="210.20" width="30.20" height="3.90" fill="#9ccf86"/>
<rect x="52.90" y="210.20" width="30.20" height="3.90" fill="#bcdea8"/>
<rect x="82.30" y="210.20" width="30.20" height="3.90" fill="#bcdea8"/>
<rect x="111.70" y="210.20" width="30.20" height="3.90" fill="#9ccf86"/>
<rect x="141.10" y="210.20" width="30.20" height="3.90" fill="#fcf8f2"/>
<rect x="170.50" y="210.20" width="30.20" height="3.90" fill="#e83a3a"/>
<rect x="199.90" y="210.20" width="30.20" height="3.90" fill="#f4a0a0"/>
<rect x="229.30" y="210.20" width="29.40" height="3.90" fill="#f4a0a0"/>
<rect x="23.50" y="213.30" width="30.20" height="3.90" fill="#9ccf86"/>
<rect x="52.90" y="213.30" width="30.20" height="3.90" fill="#bcdea8"/>
<rect x="82.30" y="213.30" width="30.20" height="3.90" fill="#bcdea8"/>
<rect x="111.70" y="213.30" width="30.20" height="3.90" fill="#9ccf86"/>
<rect x="141.10" y="213.30" width="30.20" height="3.90" fill="#e83a3a"/>
<rect x="170.50" y="213.30" width="30.20" height="3.90" fill="#ee6a6a"/>
<rect x="199.90" y="213.30" width="30.20" height="3.90" fill="#f4a0a0"/>
<rect x="229.30" y="213.30" width="29.40" height="3.90" fill="#fcf8f2"/>
<rect x="23.50" y="216.40" width="30.20" height="3.90" fill="#9ccf86"/>
<rect x="52.90" y="216.40" width="30.20" height="3.90" fill="#bcdea8"/>
<rect x="82.30" y="216.40" width="30.20" height="3.90" fill="#9ccf86"/>
<rect x="111.70" y="216.40" width="30.20" height="3.90" fill="#9ccf86"/>
<rect x="141.10" y="216.40" width="30.20" height="3.90" fill="#bcdea8"/>
<rect x="170.50" y="216.40" width="30.20" height="3.90" fill="#ee6a6a"/>
<rect x="199.90" y="216.40" width="30.20" height="3.90" fill="#ee6a6a"/>
<rect x="229.30" y="216.40" width="29.40" height="3.90" fill="#ee6a6a"/>
<rect x="23.50" y="219.50" width="30.20" height="3.90" fill="#9ccf86"/>
<rect x="52.90" y="219.50" width="30.20" height="3.90" fill="#bcdea8"/>
<rect x="82.30" y="219.50" width="30.20" height="3.90" fill="#fcf8f2"/>
<rect x="111.70" y="219.50" width="30.20" height="3.90" fill="#bcdea8"/>
<rect x="141.10" y="219.50" width="30.20" height="3.90" fill="#9ccf86"/>
<rect x="170.50" y="219.50" width="30.20" height="3.90" fill="#ee6a6a"/>
<rect x="199.90" y="219.50" width="30.20" height="3.90" fill="#f4a0a0"/>
<rect x="229.30" y="219.50" width="29.40" height="3.90" fill="#ee6a6a"/>
<rect x="23.50" y="222.60" width="30.20" height="3.90" fill="#fcf8f2"/>
<rect x="52.90" y="222.60" width="30.20" height="3.90" fill="#ee6a6a"/>
<rect x="82.30" y="222.60" width="30.20" height="3.90" fill="#fcf8f2"/>
<rect x="111.70" y="222.60" width="30.20" height="3.90" fill="#e83a3a"/>
<rect x="141.10" y="222.60" width="30.20" height="3.90" fill="#9ccf86"/>
<rect x="170.50" y="222.60" width="30.20" height="3.90" fill="#bcdea8"/>
<rect x="199.90" y="222.60" width="30.20" height="3.90" fill="#9ccf86"/>
<rect x="229.30" y="222.60" width="29.40" height="3.90" fill="#9ccf86"/>
<rect x="23.50" y="225.70" width="30.20" height="3.90" fill="#f4a0a0"/>
<rect x="52.90" y="225.70" width="30.20" height="3.90" fill="#ee6a6a"/>
<rect x="82.30" y="225.70" width="30.20" height="3.90" fill="#f4a0a0"/>
<rect x="111.70" y="225.70" width="30.20" height="3.90" fill="#f4a0a0"/>
<rect x="141.10" y="225.70" width="30.20" height="3.90" fill="#9ccf86"/>
<rect x="170.50" y="225.70" width="30.20" height="3.90" fill="#9ccf86"/>
<rect x="199.90" y="225.70" width="30.20" height="3.90" fill="#9ccf86"/>
<rect x="229.30" y="225.70" width="29.40" height="3.90" fill="#9ccf86"/>
<rect x="23.50" y="228.80" width="30.20" height="3.90" fill="#bcdea8"/>
<rect x="52.90" y="228.80" width="30.20" height="3.90" fill="#bcdea8"/>
<rect x="82.30" y="228.80" width="30.20" height="3.90" fill="#deedd2"/>
<rect x="111.70" y="228.80" width="30.20" height="3.90" fill="#9ccf86"/>
<rect x="141.10" y="228.80" width="30.20" height="3.90" fill="#ee6a6a"/>
<rect x="170.50" y="228.80" width="30.20" height="3.90" fill="#ee6a6a"/>
<rect x="199.90" y="228.80" width="30.20" height="3.90" fill="#fcf8f2"/>
<rect x="229.30" y="228.80" width="29.40" height="3.90" fill="#ee6a6a"/>
<rect x="23.50" y="231.90" width="30.20" height="3.90" fill="#bcdea8"/>
<rect x="52.90" y="231.90" width="30.20" height="3.90" fill="#fbe2e2"/>
<rect x="82.30" y="231.90" width="30.20" height="3.90" fill="#bcdea8"/>
<rect x="111.70" y="231.90" width="30.20" height="3.90" fill="#9ccf86"/>
<rect x="141.10" y="231.90" width="30.20" height="3.90" fill="#ee6a6a"/>
<rect x="170.50" y="231.90" width="30.20" height="3.90" fill="#fcf8f2"/>
<rect x="199.90" y="231.90" width="30.20" height="3.90" fill="#bcdea8"/>
<rect x="229.30" y="231.90" width="29.40" height="3.90" fill="#f4a0a0"/>
<rect x="23.50" y="235.00" width="30.20" height="3.90" fill="#e83a3a"/>
<rect x="52.90" y="235.00" width="30.20" height="3.90" fill="#fbe2e2"/>
<rect x="82.30" y="235.00" width="30.20" height="3.90" fill="#f4a0a0"/>
<rect x="111.70" y="235.00" width="30.20" height="3.90" fill="#ee6a6a"/>
<rect x="141.10" y="235.00" width="30.20" height="3.90" fill="#9ccf86"/>
<rect x="170.50" y="235.00" width="30.20" height="3.90" fill="#9ccf86"/>
<rect x="199.90" y="235.00" width="30.20" height="3.90" fill="#9ccf86"/>
<rect x="229.30" y="235.00" width="29.40" height="3.90" fill="#fcf8f2"/>
<rect x="23.50" y="238.10" width="30.20" height="3.90" fill="#bcdea8"/>
<rect x="52.90" y="238.10" width="30.20" height="3.90" fill="#9ccf86"/>
<rect x="82.30" y="238.10" width="30.20" height="3.90" fill="#bcdea8"/>
<rect x="111.70" y="238.10" width="30.20" height="3.90" fill="#bcdea8"/>
<rect x="141.10" y="238.10" width="30.20" height="3.90" fill="#f4a0a0"/>
<rect x="170.50" y="238.10" width="30.20" height="3.90" fill="#ee6a6a"/>
<rect x="199.90" y="238.10" width="30.20" height="3.90" fill="#ee6a6a"/>
<rect x="229.30" y="238.10" width="29.40" height="3.90" fill="#bcdea8"/>
<rect x="23.50" y="241.20" width="30.20" height="3.90" fill="#e83a3a"/>
<rect x="52.90" y="241.20" width="30.20" height="3.90" fill="#f4a0a0"/>
<rect x="82.30" y="241.20" width="30.20" height="3.90" fill="#fcf8f2"/>
<rect x="111.70" y="241.20" width="30.20" height="3.90" fill="#f4a0a0"/>
<rect x="141.10" y="241.20" width="30.20" height="3.90" fill="#bcdea8"/>
<rect x="170.50" y="241.20" width="30.20" height="3.90" fill="#fcf8f2"/>
<rect x="199.90" y="241.20" width="30.20" height="3.90" fill="#bcdea8"/>
<rect x="229.30" y="241.20" width="29.40" height="3.90" fill="#82c26a"/>
<rect x="23.50" y="244.30" width="30.20" height="3.90" fill="#bcdea8"/>
<rect x="52.90" y="244.30" width="30.20" height="3.90" fill="#bcdea8"/>
<rect x="82.30" y="244.30" width="30.20" height="3.90" fill="#bcdea8"/>
<rect x="111.70" y="244.30" width="30.20" height="3.90" fill="#bcdea8"/>
<rect x="141.10" y="244.30" width="30.20" height="3.90" fill="#e83a3a"/>
<rect x="170.50" y="244.30" width="30.20" height="3.90" fill="#bcdea8"/>
<rect x="199.90" y="244.30" width="30.20" height="3.90" fill="#bcdea8"/>
<rect x="229.30" y="244.30" width="29.40" height="3.90" fill="#ee6a6a"/>
<rect x="23.50" y="247.40" width="30.20" height="3.90" fill="#bcdea8"/>
<rect x="52.90" y="247.40" width="30.20" height="3.90" fill="#bcdea8"/>
<rect x="82.30" y="247.40" width="30.20" height="3.90" fill="#bcdea8"/>
<rect x="111.70" y="247.40" width="30.20" height="3.90" fill="#9ccf86"/>
<rect x="141.10" y="247.40" width="30.20" height="3.90" fill="#fcf8f2"/>
<rect x="170.50" y="247.40" width="30.20" height="3.90" fill="#f4a0a0"/>
<rect x="199.90" y="247.40" width="30.20" height="3.90" fill="#f4a0a0"/>
<rect x="229.30" y="247.40" width="29.40" height="3.90" fill="#ee6a6a"/>
<rect x="23.50" y="250.50" width="30.20" height="3.90" fill="#f8c8c8"/>
<rect x="52.90" y="250.50" width="30.20" height="3.90" fill="#f8c8c8"/>
<rect x="82.30" y="250.50" width="30.20" height="3.90" fill="#deedd2"/>
<rect x="111.70" y="250.50" width="30.20" height="3.90" fill="#e83a3a"/>
<rect x="141.10" y="250.50" width="30.20" height="3.90" fill="#9ccf86"/>
<rect x="170.50" y="250.50" width="30.20" height="3.90" fill="#9ccf86"/>
<rect x="199.90" y="250.50" width="30.20" height="3.90" fill="#bcdea8"/>
<rect x="229.30" y="250.50" width="29.40" height="3.90" fill="#9ccf86"/>
<rect x="23.50" y="253.60" width="30.20" height="3.90" fill="#bcdea8"/>
<rect x="52.90" y="253.60" width="30.20" height="3.90" fill="#deedd2"/>
<rect x="82.30" y="253.60" width="30.20" height="3.90" fill="#bcdea8"/>
<rect x="111.70" y="253.60" width="30.20" height="3.90" fill="#9ccf86"/>
<rect x="141.10" y="253.60" width="30.20" height="3.90" fill="#deedd2"/>
<rect x="170.50" y="253.60" width="30.20" height="3.90" fill="#deedd2"/>
<rect x="199.90" y="253.60" width="30.20" height="3.90" fill="#fcf8f2"/>
<rect x="229.30" y="253.60" width="29.40" height="3.90" fill="#e83a3a"/>
<rect x="23.50" y="256.70" width="30.20" height="3.90" fill="#e83a3a"/>
<rect x="52.90" y="256.70" width="30.20" height="3.90" fill="#deedd2"/>
<rect x="82.30" y="256.70" width="30.20" height="3.90" fill="#deedd2"/>
<rect x="111.70" y="256.70" width="30.20" height="3.90" fill="#e83a3a"/>
<rect x="141.10" y="256.70" width="30.20" height="3.90" fill="#9ccf86"/>
<rect x="170.50" y="256.70" width="30.20" height="3.90" fill="#bcdea8"/>
<rect x="199.90" y="256.70" width="30.20" height="3.90" fill="#deedd2"/>
<rect x="229.30" y="256.70" width="29.40" height="3.90" fill="#bcdea8"/>
<rect x="23.50" y="259.80" width="30.20" height="3.90" fill="#bcdea8"/>
<rect x="52.90" y="259.80" width="30.20" height="3.90" fill="#bcdea8"/>
<rect x="82.30" y="259.80" width="30.20" height="3.90" fill="#bcdea8"/>
<rect x="111.70" y="259.80" width="30.20" height="3.90" fill="#bcdea8"/>
<rect x="141.10" y="259.80" width="30.20" height="3.90" fill="#fcf8f2"/>
<rect x="170.50" y="259.80" width="30.20" height="3.90" fill="#bcdea8"/>
<rect x="199.90" y="259.80" width="30.20" height="3.90" fill="#deedd2"/>
<rect x="229.30" y="259.80" width="29.40" height="3.90" fill="#e83a3a"/>
<rect x="23.50" y="262.90" width="30.20" height="3.90" fill="#deedd2"/>
<rect x="52.90" y="262.90" width="30.20" height="3.90" fill="#f4a0a0"/>
<rect x="82.30" y="262.90" width="30.20" height="3.90" fill="#e83a3a"/>
<rect x="111.70" y="262.90" width="30.20" height="3.90" fill="#f8c8c8"/>
<rect x="141.10" y="262.90" width="30.20" height="3.90" fill="#fcf8f2"/>
<rect x="170.50" y="262.90" width="30.20" height="3.90" fill="#bcdea8"/>
<rect x="199.90" y="262.90" width="30.20" height="3.90" fill="#9ccf86"/>
<rect x="229.30" y="262.90" width="29.40" height="3.90" fill="#9ccf86"/>
<rect x="23.50" y="266.00" width="30.20" height="3.90" fill="#9ccf86"/>
<rect x="52.90" y="266.00" width="30.20" height="3.90" fill="#bcdea8"/>
<rect x="82.30" y="266.00" width="30.20" height="3.90" fill="#9ccf86"/>
<rect x="111.70" y="266.00" width="30.20" height="3.90" fill="#9ccf86"/>
<rect x="141.10" y="266.00" width="30.20" height="3.90" fill="#fbe2e2"/>
<rect x="170.50" y="266.00" width="30.20" height="3.90" fill="#f4a0a0"/>
<rect x="199.90" y="266.00" width="30.20" height="3.90" fill="#f4a0a0"/>
<rect x="229.30" y="266.00" width="29.40" height="3.90" fill="#ee6a6a"/>
<rect x="23.50" y="269.10" width="30.20" height="3.90" fill="#9ccf86"/>
<rect x="52.90" y="269.10" width="30.20" height="3.90" fill="#9ccf86"/>
<rect x="82.30" y="269.10" width="30.20" height="3.90" fill="#bcdea8"/>
<rect x="111.70" y="269.10" width="30.20" height="3.90" fill="#deedd2"/>
<rect x="141.10" y="269.10" width="30.20" height="3.90" fill="#fbe2e2"/>
<rect x="170.50" y="269.10" width="30.20" height="3.90" fill="#ee6a6a"/>
<rect x="199.90" y="269.10" width="30.20" height="3.90" fill="#f4a0a0"/>
<rect x="229.30" y="269.10" width="29.40" height="3.90" fill="#f4a0a0"/>
<rect x="23.50" y="272.20" width="30.20" height="3.90" fill="#e83a3a"/>
<rect x="52.90" y="272.20" width="30.20" height="3.90" fill="#f4a0a0"/>
<rect x="82.30" y="272.20" width="30.20" height="3.90" fill="#f8c8c8"/>
<rect x="111.70" y="272.20" width="30.20" height="3.90" fill="#deedd2"/>
<rect x="141.10" y="272.20" width="30.20" height="3.90" fill="#9ccf86"/>
<rect x="170.50" y="272.20" width="30.20" height="3.90" fill="#9ccf86"/>
<rect x="199.90" y="272.20" width="30.20" height="3.90" fill="#9ccf86"/>
<rect x="229.30" y="272.20" width="29.40" height="3.90" fill="#fcf8f2"/>
<rect x="23.50" y="275.30" width="30.20" height="3.90" fill="#bcdea8"/>
<rect x="52.90" y="275.30" width="30.20" height="3.90" fill="#9ccf86"/>
<rect x="82.30" y="275.30" width="30.20" height="3.90" fill="#bcdea8"/>
<rect x="111.70" y="275.30" width="30.20" height="3.90" fill="#9ccf86"/>
<rect x="141.10" y="275.30" width="30.20" height="3.90" fill="#e83a3a"/>
<rect x="170.50" y="275.30" width="30.20" height="3.90" fill="#fcf8f2"/>
<rect x="199.90" y="275.30" width="30.20" height="3.90" fill="#f4a0a0"/>
<rect x="229.30" y="275.30" width="29.40" height="3.90" fill="#fcf8f2"/>
<rect x="23.50" y="278.40" width="30.20" height="3.10" fill="#bcdea8"/>
<rect x="52.90" y="278.40" width="30.20" height="3.10" fill="#9ccf86"/>
<rect x="82.30" y="278.40" width="30.20" height="3.10" fill="#bcdea8"/>
<rect x="111.70" y="278.40" width="30.20" height="3.10" fill="#9ccf86"/>
<rect x="141.10" y="278.40" width="30.20" height="3.10" fill="#f8c8c8"/>
<rect x="170.50" y="278.40" width="30.20" height="3.10" fill="#f8c8c8"/>
<rect x="199.90" y="278.40" width="30.20" height="3.10" fill="#f4a0a0"/>
<rect x="229.30" y="278.40" width="29.40" height="3.10" fill="#ee6a6a"/>
</g>
<rect x="17.1" y="21.10" width="4.6" height="68.20" fill="#7cc6ae"/>
<rect x="17.1" y="89.30" width="4.6" height="49.60" fill="#f4ee9c"/>
<rect x="17.1" y="138.90" width="4.6" height="34.10" fill="#b4a8d2"/>
<rect x="17.1" y="173.00" width="4.6" height="31.00" fill="#ee7468"/>
<rect x="17.1" y="204.00" width="4.6" height="27.90" fill="#7a9fc6"/>
<rect x="17.1" y="231.90" width="4.6" height="15.50" fill="#f4a25c"/>
<rect x="17.1" y="247.40" width="4.6" height="12.40" fill="#92c864"/>
<rect x="17.1" y="259.80" width="4.6" height="9.30" fill="#f6bcd8"/>
<rect x="17.1" y="269.10" width="4.6" height="6.20" fill="#a466aa"/>
<rect x="17.1" y="275.30" width="4.6" height="6.20" fill="#bde2b4"/>
<text transform="translate(21.90,284.3) rotate(90)" style="font-size:6.1px">Class</text>
<text transform="translate(40.70,284.3) rotate(90)" style="font-size:6.1px">GA1</text>
<text transform="translate(68.40,284.3) rotate(90)" style="font-size:6.1px">GA2</text>
<text transform="translate(99.60,284.3) rotate(90)" style="font-size:6.1px">GA3</text>
<text transform="translate(126.10,284.3) rotate(90)" style="font-size:6.1px">GA4</text>
<text transform="translate(155.60,284.3) rotate(90)" style="font-size:6.1px">PA1</text>
<text transform="translate(184.60,284.3) rotate(90)" style="font-size:6.1px">PA2</text>
<text transform="translate(212.60,284.3) rotate(90)" style="font-size:6.1px">PA3</text>
<text transform="translate(243.00,284.3) rotate(90)" style="font-size:6.1px">PA4</text>
<defs><linearGradient id="hm" x1="0" y1="0" x2="0" y2="1"><stop offset="0" stop-color="#e63c3c"/><stop offset="0.5" stop-color="#ffffff"/><stop offset="1" stop-color="#5fae48"/></linearGradient><linearGradient id="pv" x1="0" y1="0" x2="0" y2="1"><stop offset="0" stop-color="#7b52a3"/><stop offset="0.1" stop-color="#8a7ec3"/><stop offset="0.25" stop-color="#66c3e0"/><stop offset="0.37" stop-color="#6db8a5"/><stop offset="0.5" stop-color="#7fc043"/><stop offset="0.6" stop-color="#b8a93e"/><stop offset="0.7" stop-color="#f08f4c"/><stop offset="0.82" stop-color="#ec6446"/><stop offset="1" stop-color="#e8342c"/></linearGradient></defs>
<rect x="260.9" y="21.1" width="5" height="74" fill="url(#hm)"/>
<text x="268.0" y="29.90" style="font-size:6px">2</text>
<text x="268.0" y="44.90" style="font-size:6px">1</text>
<text x="268.0" y="59.70" style="font-size:6px">0</text>
<text x="266.6" y="74.70" style="font-size:6px">-1</text>
<text x="266.6" y="90.30" style="font-size:6px">-2</text>
<text x="274.1" y="24" style="font-size:6px">Group</text>
<rect x="276.2" y="26.5" width="7.3" height="7.3" fill="#3a8b68"/>
<rect x="276.2" y="33.8" width="7.3" height="7.3" fill="#d2602a"/>
<text x="285.7" y="31.8" style="font-size:6px">GA</text>
<text x="285.7" y="40.7" style="font-size:6px">PA</text>
<text x="275.8" y="50.2" style="font-size:6px">Class</text>
<rect x="275.9" y="51.90" width="7.3" height="7.13" fill="#7cc6ae"/>
<text x="285.9" y="57.70" style="font-size:6px">Phenolic acids</text>
<rect x="275.9" y="59.03" width="7.3" height="7.13" fill="#f4ee9c"/>
<text x="285.9" y="64.83" style="font-size:6px">Flavonoids</text>
<rect x="275.9" y="66.16" width="7.3" height="7.13" fill="#b4a8d2"/>
<text x="285.9" y="71.96" style="font-size:6px">Others</text>
<rect x="275.9" y="73.29" width="7.3" height="7.13" fill="#ee7468"/>
<text x="285.9" y="79.09" style="font-size:6px">Alkaloids</text>
<rect x="275.9" y="80.42" width="7.3" height="7.13" fill="#7a9fc6"/>
<text x="285.9" y="86.22" style="font-size:6px">Amino acids and derivatives</text>
<rect x="275.9" y="87.55" width="7.3" height="7.13" fill="#f4a25c"/>
<text x="285.9" y="93.35" style="font-size:6px">Organic acids</text>
<rect x="275.9" y="94.68" width="7.3" height="7.13" fill="#92c864"/>
<text x="285.9" y="100.48" style="font-size:6px">Lignans and Coumarins</text>
<rect x="275.9" y="101.81" width="7.3" height="7.13" fill="#f6bcd8"/>
<text x="285.9" y="107.61" style="font-size:6px">Tannins</text>
<rect x="275.9" y="108.94" width="7.3" height="7.13" fill="#a466aa"/>
<text x="285.9" y="114.74" style="font-size:6px">Lipids</text>
<rect x="275.9" y="116.07" width="7.3" height="7.13" fill="#bde2b4"/>
<text x="285.9" y="121.87" style="font-size:6px">Nucleotides and derivatives</text>
<text x="7.6" y="314.4" style="font-weight:bold;font-size:9.1px">(b)</text>
<text x="171.3" y="313.5" style="font-size:6.2px">Statistics of KEGG Enrichment</text>
<text x="162.6" y="327.00" text-anchor="end" style="font-size:6.33px">Vitamin B6 metabolism</text>
<line x1="163.3" x2="165.4" y1="324.50" y2="324.50" stroke="#333" stroke-width="0.75"/>
<text x="162.6" y="337.53" text-anchor="end" style="font-size:6.33px">Ubiquinone and other terpenoid-quinone biosynthesis</text>
<line x1="163.3" x2="165.4" y1="335.03" y2="335.03" stroke="#333" stroke-width="0.75"/>
<text x="162.6" y="348.06" text-anchor="end" style="font-size:6.33px">Tyrosine metabolism</text>
<line x1="163.3" x2="165.4" y1="345.56" y2="345.56" stroke="#333" stroke-width="0.75"/>
<text x="162.6" y="358.59" text-anchor="end" style="font-size:6.33px">Tryptophan metabolism</text>
<line x1="163.3" x2="165.4" y1="356.09" y2="356.09" stroke="#333" stroke-width="0.75"/>
<text x="162.6" y="369.12" text-anchor="end" style="font-size:6.33px">Thiamine metabolism</text>
<line x1="163.3" x2="165.4" y1="366.62" y2="366.62" stroke="#333" stroke-width="0.75"/>
<text x="162.6" y="379.65" text-anchor="end" style="font-size:6.33px">Taurine and hypotaurine metabolism</text>
<line x1="163.3" x2="165.4" y1="377.15" y2="377.15" stroke="#333" stroke-width="0.75"/>
<text x="162.6" y="390.18" text-anchor="end" style="font-size:6.33px">Sulfur relay system</text>
<line x1="163.3" x2="165.4" y1="387.68" y2="387.68" stroke="#333" stroke-width="0.75"/>
<text x="162.6" y="400.71" text-anchor="end" style="font-size:6.33px">Phenylpropanoid biosynthesis</text>
<line x1="163.3" x2="165.4" y1="398.21" y2="398.21" stroke="#333" stroke-width="0.75"/>
<text x="162.6" y="411.24" text-anchor="end" style="font-size:6.33px">Phenylalanine metabolism</text>
<line x1="163.3" x2="165.4" y1="408.74" y2="408.74" stroke="#333" stroke-width="0.75"/>
<text x="162.6" y="421.77" text-anchor="end" style="font-size:6.33px">Penicillin and cephalosporin biosynthesis</text>
<line x1="163.3" x2="165.4" y1="419.27" y2="419.27" stroke="#333" stroke-width="0.75"/>
<text x="162.6" y="432.30" text-anchor="end" style="font-size:6.33px">Lysine degradation</text>
<line x1="163.3" x2="165.4" y1="429.80" y2="429.80" stroke="#333" stroke-width="0.75"/>
<text x="162.6" y="442.83" text-anchor="end" style="font-size:6.33px">Glutathione metabolism</text>
<line x1="163.3" x2="165.4" y1="440.33" y2="440.33" stroke="#333" stroke-width="0.75"/>
<text x="162.6" y="453.36" text-anchor="end" style="font-size:6.33px">Glucosinolate biosynthesis</text>
<line x1="163.3" x2="165.4" y1="450.86" y2="450.86" stroke="#333" stroke-width="0.75"/>
<text x="162.6" y="463.89" text-anchor="end" style="font-size:6.33px">D-Arginine and D-ornithine metabolism</text>
<line x1="163.3" x2="165.4" y1="461.39" y2="461.39" stroke="#333" stroke-width="0.75"/>
<text x="162.6" y="474.42" text-anchor="end" style="font-size:6.33px">Carbapenem biosynthesis</text>
<line x1="163.3" x2="165.4" y1="471.92" y2="471.92" stroke="#333" stroke-width="0.75"/>
<text x="162.6" y="484.95" text-anchor="end" style="font-size:6.33px">Biosynthesis of secondary metabolites</text>
<line x1="163.3" x2="165.4" y1="482.45" y2="482.45" stroke="#333" stroke-width="0.75"/>
<text x="162.6" y="495.48" text-anchor="end" style="font-size:6.33px">Biosynthesis of amino acids</text>
<line x1="163.3" x2="165.4" y1="492.98" y2="492.98" stroke="#333" stroke-width="0.75"/>
<text x="162.6" y="506.01" text-anchor="end" style="font-size:6.33px">Arginine biosynthesis</text>
<line x1="163.3" x2="165.4" y1="503.51" y2="503.51" stroke="#333" stroke-width="0.75"/>
<text x="162.6" y="516.54" text-anchor="end" style="font-size:6.33px">Arginine and proline metabolism</text>
<line x1="163.3" x2="165.4" y1="514.04" y2="514.04" stroke="#333" stroke-width="0.75"/>
<text x="162.6" y="527.07" text-anchor="end" style="font-size:6.33px">2-Oxocarboxylic acid metabolism</text>
<line x1="163.3" x2="165.4" y1="524.57" y2="524.57" stroke="#333" stroke-width="0.75"/>
<rect x="165.90" y="318.35" width="179.40" height="212.15" fill="none" stroke="#8f8f8f" stroke-width="1.1"/>
<line x1="173.90" x2="173.90" y1="531" y2="532.6" stroke="#333" stroke-width="0.75"/>
<text x="175.40" y="538.3" text-anchor="middle" style="font-size:6.4px">0.10</text>
<line x1="209.40" x2="209.40" y1="531" y2="532.6" stroke="#333" stroke-width="0.75"/>
<text x="208.10" y="538.3" text-anchor="middle" style="font-size:6.4px">0.15</text>
<line x1="244.90" x2="244.90" y1="531" y2="532.6" stroke="#333" stroke-width="0.75"/>
<text x="243.00" y="538.3" text-anchor="middle" style="font-size:6.4px">0.20</text>
<line x1="280.40" x2="280.40" y1="531" y2="532.6" stroke="#333" stroke-width="0.75"/>
<text x="280.90" y="538.3" text-anchor="middle" style="font-size:6.4px">0.25</text>
<line x1="315.90" x2="315.90" y1="531" y2="532.6" stroke="#333" stroke-width="0.75"/>
<text x="318.80" y="538.3" text-anchor="middle" style="font-size:6.4px">0.30</text>
<text x="236.9" y="545.6" style="font-size:6.2px">Rich factor</text>
<circle cx="244.90" cy="324.50" r="1.35" fill="#d9923a"/>
<circle cx="244.90" cy="335.03" r="1.35" fill="#d9923a"/>
<circle cx="202.20" cy="345.56" r="2.30" fill="#db913c"/>
<circle cx="245.00" cy="356.09" r="2.90" fill="#e84c38"/>
<circle cx="245.00" cy="366.62" r="1.35" fill="#d9923a"/>
<circle cx="280.50" cy="377.15" r="1.35" fill="#e9622e"/>
<circle cx="280.50" cy="387.68" r="1.35" fill="#e9622e"/>
<circle cx="202.20" cy="398.21" r="2.70" fill="#ee6a4a"/>
<circle cx="202.20" cy="408.74" r="2.40" fill="#de9a42"/>
<circle cx="337.30" cy="419.27" r="1.35" fill="#e85a2e"/>
<circle cx="202.20" cy="429.80" r="2.20" fill="#de963c"/>
<circle cx="323.00" cy="440.33" r="3.10" fill="#e03530"/>
<circle cx="223.50" cy="450.86" r="2.70" fill="#ee5a3a"/>
<circle cx="337.20" cy="461.39" r="1.35" fill="#e85a2e"/>
<circle cx="280.40" cy="471.92" r="1.35" fill="#e8702e"/>
<circle cx="181.20" cy="482.45" r="5.00" fill="#e8533a"/>
<circle cx="173.60" cy="492.98" r="3.20" fill="#bcb03a"/>
<circle cx="230.90" cy="503.51" r="2.20" fill="#ec5a3a"/>
<circle cx="308.70" cy="514.04" r="3.50" fill="#e0302a"/>
<circle cx="202.00" cy="524.57" r="3.20" fill="#ec5535"/>
<text x="358.2" y="338.8" style="font-size:6.2px"><tspan style="font-style:italic">P</tspan> value</text>
<rect x="357.2" y="344.2" width="11.8" height="60" fill="url(#pv)"/>
<text x="373.5" y="349.10" style="font-size:6.2px">1.00</text>
<text x="373.5" y="363.40" style="font-size:6.2px">0.75</text>
<text x="373.5" y="377.70" style="font-size:6.2px">0.50</text>
<text x="373.5" y="391.90" style="font-size:6.2px">0.25</text>
<text x="373.5" y="406.20" style="font-size:6.2px">0.00</text>
<line x1="357.2" x2="359.6" y1="361.20" y2="361.20" stroke="#fff" stroke-width="0.5"/>
<line x1="366.6" x2="369.0" y1="361.20" y2="361.20" stroke="#fff" stroke-width="0.5"/>
<line x1="357.2" x2="359.6" y1="375.50" y2="375.50" stroke="#fff" stroke-width="0.5"/>
<line x1="366.6" x2="369.0" y1="375.50" y2="375.50" stroke="#fff" stroke-width="0.5"/>
<line x1="357.2" x2="359.6" y1="389.70" y2="389.70" stroke="#fff" stroke-width="0.5"/>
<line x1="366.6" x2="369.0" y1="389.70" y2="389.70" stroke="#fff" stroke-width="0.5"/>
<text x="357.4" y="425.5" style="font-size:6.2px">number</text>
<circle cx="363.1" cy="437.00" r="1.25" fill="#1a1a1a"/>
<text x="373.4" y="439.20" style="font-size:6.2px">1</text>
<circle cx="363.1" cy="449.20" r="2.70" fill="#1a1a1a"/>
<text x="373.4" y="451.40" style="font-size:6.2px">3</text>
<circle cx="363.1" cy="461.30" r="3.10" fill="#1a1a1a"/>
<text x="373.4" y="463.50" style="font-size:6.2px">5</text>
<circle cx="363.1" cy="473.10" r="3.50" fill="#1a1a1a"/>
<text x="373.4" y="475.30" style="font-size:6.2px">7</text>
<circle cx="363.1" cy="484.90" r="4.00" fill="#1a1a1a"/>
<text x="373.4" y="487.10" style="font-size:6.2px">9</text>
<circle cx="363.1" cy="497.00" r="4.50" fill="#1a1a1a"/>
<text x="373.4" y="499.20" style="font-size:6.2px">11</text>
<circle cx="363.1" cy="509.30" r="5.00" fill="#1a1a1a"/>
<text x="373.4" y="511.50" style="font-size:6.2px">13</text>
</svg></body></html>
